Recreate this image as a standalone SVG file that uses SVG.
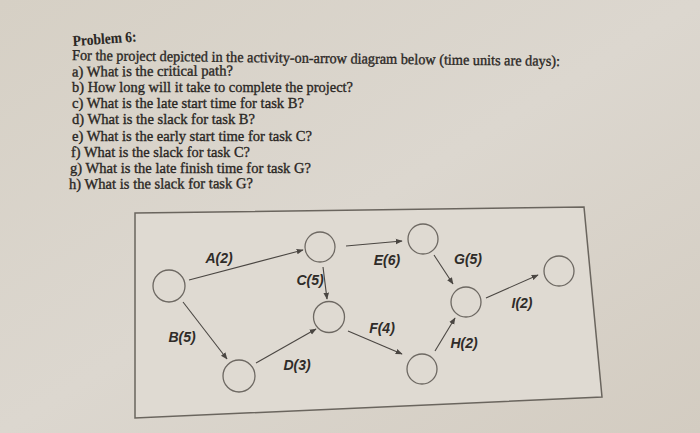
<svg xmlns="http://www.w3.org/2000/svg" width="700" height="433" viewBox="0 0 700 433">
<defs>
<linearGradient id="paper" x1="0" y1="0" x2="1" y2="1">
<stop offset="0" stop-color="#d6d0c5"/>
<stop offset="0.5" stop-color="#dcd7cf"/>
<stop offset="1" stop-color="#d3ccc1"/>
</linearGradient>
<marker id="ah" viewBox="0 0 10 10" refX="9" refY="5" markerWidth="7" markerHeight="7" markerUnits="userSpaceOnUse" orient="auto">
<path d="M0,1 L10,5 L0,9 z" fill="#4a4642"/>
</marker>
<style>
.q{font-family:"Liberation Serif","DejaVu Serif",serif;font-size:15px;fill:#2a2724;stroke:#2a2724;stroke-width:0.35}
.t{font-weight:bold;stroke-width:0.1}
.n circle{fill:none;stroke:#6d6862;stroke-width:1.3}
.c line{stroke:#4a4642;stroke-width:1.1;marker-end:url(#ah)}
.l{font-family:"Liberation Sans",Arial,sans-serif;font-weight:bold;font-style:italic;font-size:14px;fill:#2f2c29;text-anchor:middle}
</style>
</defs>
<rect width="700" height="433" fill="url(#paper)"/>
<polygon points="135,213 584,207 602,397 135,418" fill="#dfdad2" stroke="#6a655e" stroke-width="1.5"/>

<g id="question">
<text class="q t" x="73" y="46" transform="rotate(-4 73 46)" textLength="64" lengthAdjust="spacingAndGlyphs">Problem 6:</text>
<text class="q" x="72" y="60" transform="rotate(0.7 72 60)" textLength="488" lengthAdjust="spacingAndGlyphs">For the project depicted in the activity-on-arrow diagram below (time units are days):</text>
<text class="q" x="72" y="76.5" transform="rotate(-0.4 72 76.5)" textLength="161" lengthAdjust="spacingAndGlyphs">a) What is the critical path?</text>
<text class="q" x="72" y="92" textLength="281" lengthAdjust="spacingAndGlyphs">b) How long will it take to complete the project?</text>
<text class="q" x="72" y="108" textLength="232" lengthAdjust="spacingAndGlyphs">c) What is the late start time for task B?</text>
<text class="q" x="72" y="124" textLength="183" lengthAdjust="spacingAndGlyphs">d) What is the slack for task B?</text>
<text class="q" x="72" y="141" textLength="240" lengthAdjust="spacingAndGlyphs">e) What is the early start time for task C?</text>
<text class="q" x="71" y="157" textLength="179" lengthAdjust="spacingAndGlyphs">f) What is the slack for task C?</text>
<text class="q" x="70" y="173" textLength="241" lengthAdjust="spacingAndGlyphs">g) What is the late finish time for task G?</text>
<text class="q" x="69" y="189" transform="rotate(-0.3 69 189)" textLength="184" lengthAdjust="spacingAndGlyphs">h) What is the slack for task G?</text>
</g>

<g id="connectors" class="c">
<line x1="189" y1="280" x2="303" y2="250"/>
<line x1="183" y1="302" x2="227" y2="359"/>
<line x1="323" y1="267" x2="327" y2="299"/>
<line x1="256" y1="363" x2="316" y2="329"/>
<line x1="346" y1="246" x2="402" y2="241"/>
<line x1="348" y1="331" x2="402" y2="354"/>
<line x1="434" y1="255" x2="453" y2="284"/>
<line x1="435" y1="351" x2="455" y2="318"/>
<line x1="486" y1="298" x2="538" y2="275"/>
</g>

<g id="n1" class="n"><circle cx="169" cy="286" r="16"/></g>
<g id="n2" class="n"><circle cx="320" cy="247" r="15"/></g>
<g id="n3" class="n"><circle cx="329" cy="317" r="15.5"/></g>
<g id="n4" class="n"><circle cx="239" cy="376" r="16"/></g>
<g id="n5" class="n"><circle cx="423" cy="239" r="15"/></g>
<g id="n6" class="n"><circle cx="466" cy="302" r="15"/></g>
<g id="n7" class="n"><circle cx="559" cy="271" r="15"/></g>
<g id="n8" class="n"><circle cx="422" cy="369" r="15"/></g>

<g id="labels">
<text class="l" x="219" y="263">A(2)</text>
<text class="l" x="182" y="342">B(5)</text>
<text class="l" x="310" y="285">C(5)</text>
<text class="l" x="297" y="370">D(3)</text>
<text class="l" x="387" y="265">E(6)</text>
<text class="l" x="382" y="333">F(4)</text>
<text class="l" x="468" y="264">G(5)</text>
<text class="l" x="464" y="348">H(2)</text>
<text class="l" x="522" y="308">I(2)</text>
</g>
</svg>
